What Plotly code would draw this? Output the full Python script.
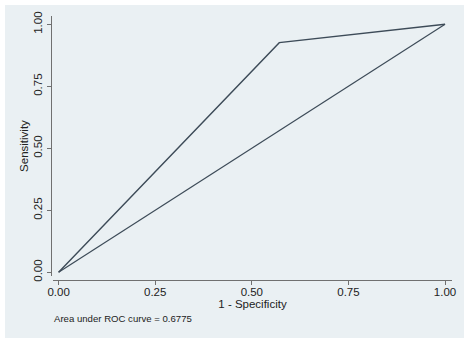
import plotly.graph_objects as go

# ROC curve data
roc_fpr = [0.0, 0.571, 1.0]   # 1 - Specificity
roc_tpr = [0.0, 0.926, 1.0]   # Sensitivity
ref_x = [0.0, 1.0]
ref_y = [0.0, 1.0]
tick_vals = [0.0, 0.25, 0.5, 0.75, 1.0]
tick_text = ["0.00", "0.25", "0.50", "0.75", "1.00"]
auc_label = "Area under ROC curve = 0.6775"

W, H = 474, 340
line_col = "#3d4b58"
bg_col = "#eaf0f3"
font = "Liberation Sans, Arial, sans-serif"

fig = go.Figure()
fig.add_trace(go.Scatter(x=roc_fpr, y=roc_tpr, mode="lines",
                         line=dict(color=line_col, width=1.4), showlegend=False))
fig.add_trace(go.Scatter(x=ref_x, y=ref_y, mode="lines",
                         line=dict(color=line_col, width=1.2), showlegend=False))

def px_x(p):
    return p / W

def px_y(p):
    return 1 - p / H

fig.update_layout(
    width=W, height=H,
    margin=dict(l=0, r=0, t=0, b=0),
    paper_bgcolor="white",
    plot_bgcolor="white",
    font=dict(family=font, size=11, color="#222222"),
    showlegend=False,
    xaxis=dict(
        domain=[px_x(53), px_x(452)],
        range=[-0.0145, 1.018],
        anchor="free", position=px_y(280),
        tickmode="array", tickvals=tick_vals, ticktext=tick_text,
        showline=True, linecolor="#707070", linewidth=1.2,
        ticks="outside", ticklen=4, tickcolor="#707070",
        showgrid=True, gridcolor=bg_col, gridwidth=1,
        zeroline=False, automargin=False,
        ticklabelstandoff=-3,
        tickfont=dict(size=11.5, color="#222222"),
        title=dict(text="1 - Specificity", font=dict(size=11.5), standoff=2),
    ),
    yaxis=dict(
        domain=[px_y(276), px_y(16)],
        range=[-0.015, 1.0335],
        anchor="free", position=px_x(51),
        tickmode="array", tickvals=tick_vals, ticktext=tick_text,
        tickangle=-90,
        showline=True, linecolor="#707070", linewidth=1.2,
        ticks="outside", ticklen=4, tickcolor="#707070",
        showgrid=True, gridcolor=bg_col, gridwidth=1,
        zeroline=False, automargin=False,
        tickfont=dict(size=11.5, color="#222222"),
        title=dict(text="Sensitivity", font=dict(size=11.5), standoff=0),
    ),
    shapes=[dict(type="rect", xref="paper", yref="paper", layer="below",
                 x0=px_x(5), x1=px_x(464), y0=px_y(338), y1=px_y(5),
                 fillcolor=bg_col, line=dict(width=0))],
    annotations=[dict(text=auc_label, xref="paper", yref="paper",
                      x=px_x(52), y=px_y(318.5), xanchor="left", yanchor="middle",
                      showarrow=False, font=dict(size=9.6, color="#222222"))],
)

fig.write_html("out.html")
